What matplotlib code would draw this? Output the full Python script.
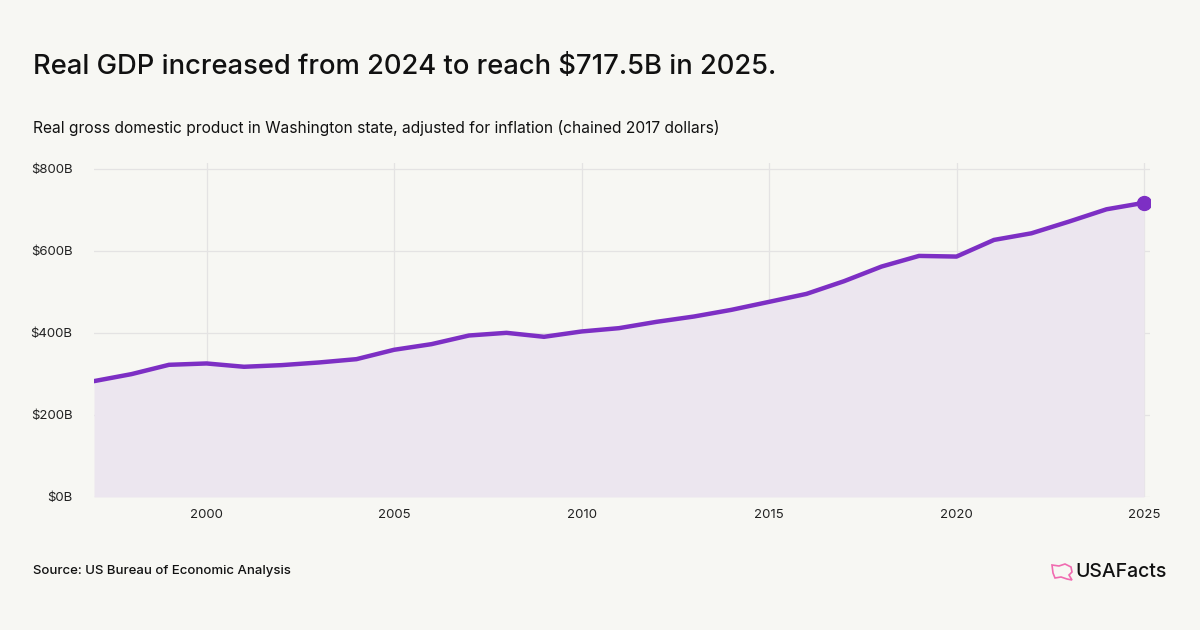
import matplotlib
matplotlib.use("Agg")
import matplotlib.pyplot as plt
from matplotlib.patches import Polygon

years = list(range(1997, 2026))
gdp_billions = [282.6, 299.7, 322.4, 325.7, 317.6, 321.6, 328.1, 336.2, 359.0, 372.8,
                393.9, 400.4, 390.7, 403.7, 411.8, 427.2, 440.2, 456.5, 475.9, 495.4,
                526.3, 562.0, 588.0, 586.4, 627.0, 643.2, 671.7, 701.7, 717.5]
y_ticks = [0, 200, 400, 600, 800]
y_tick_labels = ["$0B", "$200B", "$400B", "$600B", "$800B"]
x_ticks = [2000, 2005, 2010, 2015, 2020, 2025]

title = "Real GDP increased from 2024 to reach $717.5B in 2025."
subtitle = "Real gross domestic product in Washington state, adjusted for inflation (chained 2017 dollars)"
source = "Source: US Bureau of Economic Analysis"

BG = "#f7f7f3"
LINE = "#7d2fc4"
FILL = "#ece6ef"
GRID = "#e4e3e3"

plt.rcParams["font.family"] = ["Inter", "DejaVu Sans"]

W, H = 1200, 630
fig = plt.figure(figsize=(12, 6.3), dpi=100, facecolor=BG)
ax = fig.add_axes([94 / W, 1 - 497 / H, (1150 - 94) / W, (497 - 163) / H])
ax.set_facecolor(BG)

ax.fill_between(years, gdp_billions, 0, color=FILL, lw=0, zorder=1)
ax.plot(years, gdp_billions, color=LINE, lw=3.2, solid_capstyle="round",
        solid_joinstyle="round", zorder=3)
ax.plot([years[-1]], [gdp_billions[-1]], "o", color=LINE, ms=10, zorder=4)

ax.set_xlim(1997, 2025.16)
ax.set_ylim(0, 814.6)
ax.set_yticks(y_ticks)
ax.set_yticklabels(y_tick_labels)
ax.set_xticks(x_ticks)
ax.set_xticklabels([str(x) for x in x_ticks])
ax.grid(True, color=GRID, lw=0.9, zorder=0)
ax.set_axisbelow(True)
for s in ax.spines.values():
    s.set_visible(False)
ax.tick_params(axis="both", length=0, labelsize=9.5, colors="#222222")
ax.tick_params(axis="y", pad=15.5)
ax.tick_params(axis="x", pad=9)

fig.text(33 / W, 1 - 67 / H, title, fontsize=19.7, fontweight="medium", color="#111111",
         va="center", ha="left")
fig.text(33 / W, 1 - 128 / H, subtitle, fontsize=11.2, color="#111111", va="center", ha="left")
fig.text(33 / W, 1 - 571 / H, source, fontsize=9.5, fontweight="medium", color="#111111",
         va="center", ha="left")
fig.text(1167 / W, 1 - 572 / H, "USAFacts", fontsize=14, fontweight="medium", color="#111111",
         va="center", ha="right")

# small pink outline icon of a map
icon = [(1052, 565), (1059, 566), (1065, 564), (1071, 567), (1072, 572), (1069, 575),
        (1072, 580), (1067, 579), (1061, 577), (1055, 578), (1053, 573)]
poly = Polygon([(x / W, 1 - y / H) for x, y in icon], closed=True, fill=False,
               edgecolor="#f06bb0", lw=1.2, transform=fig.transFigure)
fig.patches.append(poly)

fig.savefig("out.png", dpi=100, facecolor=BG)
